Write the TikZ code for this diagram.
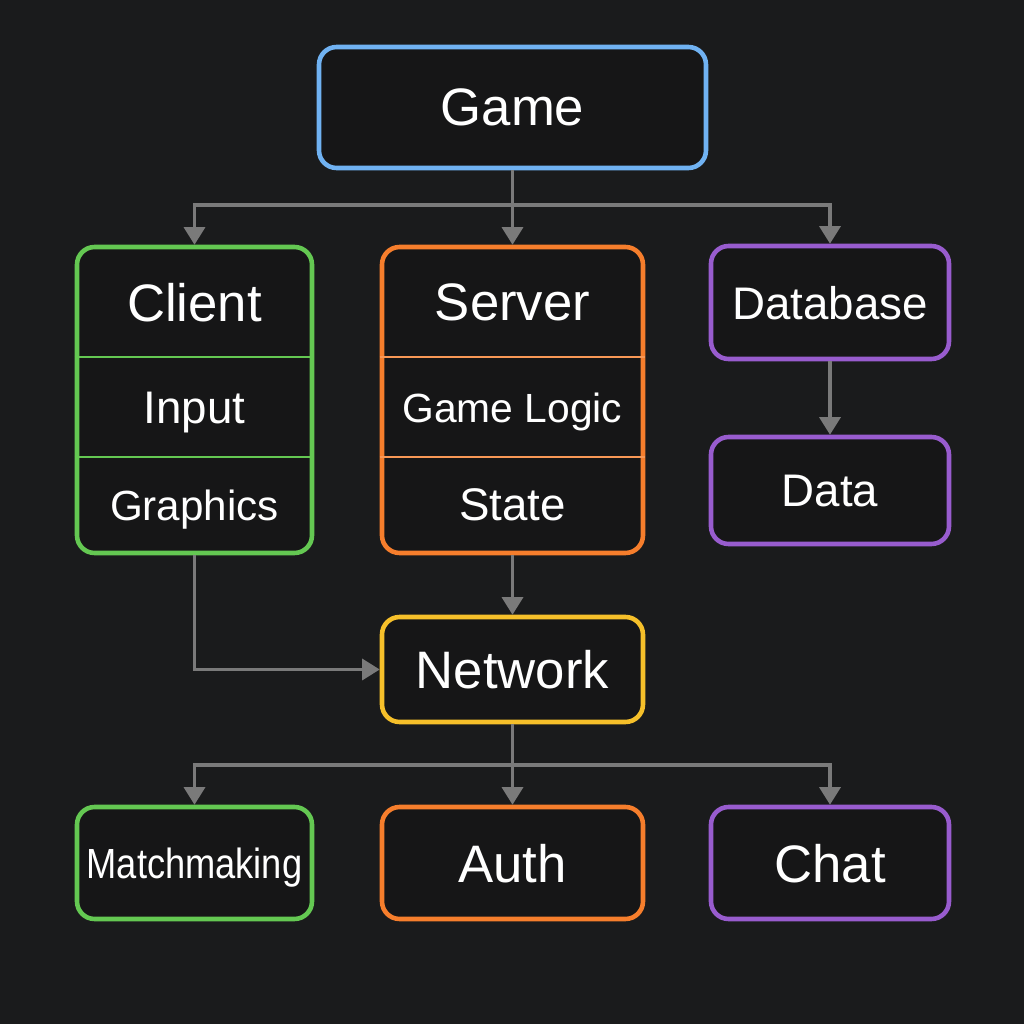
\documentclass[tikz,border=0pt]{standalone}
\usepackage{fontspec}
\setmainfont{Liberation Sans}
\usepackage{tikz}
\usetikzlibrary{arrows.meta,positioning,calc}
\usepackage{xcolor}
\definecolor{bgDark}{RGB}{26,27,28}
\definecolor{boxFill}{RGB}{22,22,23}
\definecolor{gameBlue}{RGB}{112,178,242}
\definecolor{clientGreen}{RGB}{100,200,82}
\definecolor{serverOrange}{RGB}{246,126,44}
\definecolor{dbPurple}{RGB}{152,92,206}
\definecolor{netYellow}{RGB}{246,192,42}
\definecolor{wireGray}{RGB}{122,122,122}

\begin{document}
\begin{tikzpicture}[
        block/.style={draw, line width=1.3pt, rounded corners=5pt, fill=boxFill,
          text=white, align=center, inner sep=0pt, text depth=0pt},
        label/.style={text=white, font=\fontsize{13}{15}\selectfont, text depth=0pt},
        wire/.style={draw=wireGray, line width=0.9pt},
        >={Triangle[width=6pt,length=5pt]}
      ]
        \fill[bgDark] (0,0) rectangle (10.24,10.24);
        \useasboundingbox (0,0) rectangle (10.24,10.24);

        \node[block,draw=gameBlue,minimum width=3.87cm,minimum height=1.21cm,
          font=\fontsize{15}{18}\selectfont] (game) at (5.125,9.165) {Game};

        % Client and Server with compartments
        \node[block,draw=clientGreen,minimum width=2.35cm,minimum height=3.06cm] (client) at (1.945,6.24) {};
        \node[block,draw=serverOrange,minimum width=2.61cm,minimum height=3.06cm] (server) at (5.125,6.24) {};
        \draw[clientGreen,line width=0.8pt] (client.west |- 0,6.67) -- (client.east |- 0,6.67);
        \draw[clientGreen,line width=0.8pt] (client.west |- 0,5.67) -- (client.east |- 0,5.67);
        \draw[serverOrange!80!white,line width=0.6pt] (server.west |- 0,6.67) -- (server.east |- 0,6.67);
        \draw[serverOrange!80!white,line width=0.6pt] (server.west |- 0,5.67) -- (server.east |- 0,5.67);
        \node[label,font=\fontsize{15}{18}\selectfont] (clienttitle) at (1.945,7.22) {Client};
        \node[label] (clientinput) at (1.945,6.16) {Input};
        \node[label,font=\fontsize{12}{14}\selectfont] (clientgfx) at (1.945,5.19) {Graphics};
        \node[label,font=\fontsize{15}{18}\selectfont] (servertitle) at (5.125,7.22) {Server};
        \node[label,font=\fontsize{11.6}{14}\selectfont] (serverlogic) at (5.125,6.16) {Game Logic};
        \node[label] (serverstate) at (5.125,5.19) {State};

        \node[block,draw=dbPurple,minimum width=2.38cm,minimum height=1.13cm,
          font=\fontsize{13}{16}\selectfont] (database) at (8.30,7.215) {Database};
        \node[block,draw=dbPurple,minimum width=2.38cm,minimum height=1.07cm,
          font=\fontsize{13}{16}\selectfont] (data) at (8.30,5.335) {Data};

        \node[block,draw=netYellow,minimum width=2.61cm,minimum height=1.05cm,
          font=\fontsize{15}{18}\selectfont] (network) at (5.125,3.545) {Network};

        \node[block,draw=clientGreen,minimum width=2.35cm,minimum height=1.12cm,
          font=\fontsize{12}{14}\selectfont] (match) at (1.945,1.61) {\scalebox{0.86}[1]{Matchmaking}};
        \node[block,draw=serverOrange,minimum width=2.61cm,minimum height=1.12cm,
          font=\fontsize{15}{18}\selectfont] (auth) at (5.125,1.61) {Auth};
        \node[block,draw=dbPurple,minimum width=2.38cm,minimum height=1.12cm,
          font=\fontsize{15}{18}\selectfont] (chat) at (8.30,1.61) {Chat};

        % connectors
        \coordinate (topsplit) at (5.125,8.19);
        \coordinate (botsplit) at (5.125,2.59);
        \draw[wire] (game.south) -- (topsplit);
        \draw[wire,->] (topsplit) -| (client.north);
        \draw[wire,->] (topsplit) -- (server.north);
        \draw[wire,->] (topsplit) -| (database.north);
        \draw[wire,->] (database.south) -- (data.north);
        \draw[wire,->] (server.south) -- (network.north);
        \draw[wire,->] (client.south) |- (network.west);
        \draw[wire] (network.south) -- (botsplit);
        \draw[wire,->] (botsplit) -| (match.north);
        \draw[wire,->] (botsplit) -- (auth.north);
        \draw[wire,->] (botsplit) -| (chat.north);
      \end{tikzpicture}
\end{document}
